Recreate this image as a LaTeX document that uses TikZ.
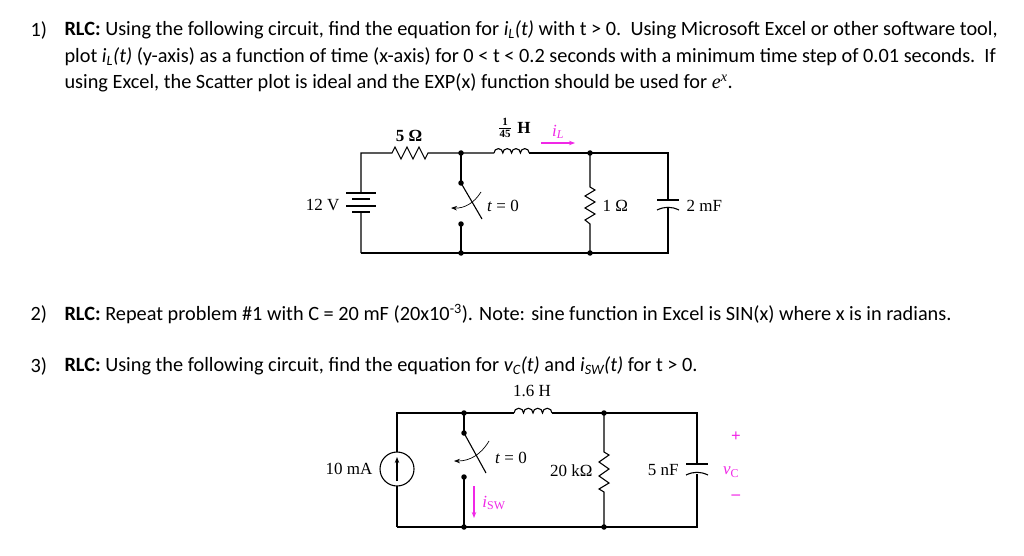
\documentclass[tikz,border=0pt]{standalone}
\usepackage{fontspec}
\setmainfont{Carlito}
\newfontfamily\ser{Liberation Serif}
\usetikzlibrary{arrows.meta}
\begin{document}
\begin{tikzpicture}[x=1pt,y=-1pt,line width=1.1pt,
  txt/.style={anchor=west,inner sep=0pt,font=\fontsize{20.3}{24}\selectfont},
  lab/.style={inner sep=0pt,font=\ser\fontsize{17}{18}\selectfont},
  sml/.style={inner sep=0pt,font=\ser\bfseries\fontsize{11}{11}\selectfont},
  dot/.style={circle,fill,inner sep=0pt,minimum size=5.5pt},
  pink/.style={color={rgb,255:red,240;green,40;blue,230}}]
\useasboundingbox (0,0) rectangle (1024,556);
% text
\node[txt] (n1) at (30,30) {1)};
\node[txt] (l1) at (64,30) {\textbf{RLC:} Using the following circuit, find the equation for \textit{i\textsubscript{L}(t)} with t \textgreater{} 0.\ \ Using Microsoft Excel or other software tool,};
\node[txt] (l2) at (64,57) {plot \textit{i\textsubscript{L}(t)} (y-axis) as a function of time (x-axis) for 0 \textless{} t \textless{} 0.2 seconds with a minimum time step of 0.01 seconds.\ \ If};
\node[txt] (l3) at (64,83) {using Excel, the Scatter plot is ideal and the EXP(x) function should be used for {\ser\itshape e}\textsuperscript{\ser\itshape x}.};
\node[txt] (n2) at (30,314) {2)};
\node[txt] (l4) at (64,314) {\textbf{RLC:} Repeat problem \#1 with C = 20 mF (20x10\textsuperscript{-3}). Note: sine function in Excel is SIN(x) where x is in radians.};
\node[txt] (n3) at (30,366) {3)};
\node[txt] (l5) at (64,366) {\textbf{RLC:} Using the following circuit, find the equation for \textit{v\textsubscript{C}(t)} and \textit{i\textsubscript{SW}(t)} for t \textgreater{} 0.};
% ---------- circuit 1
\coordinate (a1) at (361,153); \coordinate (b1) at (461,153); \coordinate (c1) at (590,153); \coordinate (d1) at (668,153);
\coordinate (a2) at (361,253); \coordinate (b2) at (461,253); \coordinate (c2) at (590,253); \coordinate (d2) at (668,253);
\draw (a2) -- (361,212) (361,193) -- (a1) -- (392,153)
  -- (395,147) -- (401,159) -- (407,147) -- (413,159) -- (419,147) -- (425,159) -- (428,153) -- (b1) -- (494,153);
\draw (494,153) \foreach \i in {0,...,3}{ arc[start angle=180,end angle=360,radius=4.4] } ;
\draw (529,153) -- (c1) -- (d1) -- (668,200);
\draw (668,208) -- (d2) -- (a2);
% battery
\draw (346,193) -- (376,193) (352,199) -- (370,199) (346,206) -- (376,206) (352,212) -- (370,212);
\node[lab,anchor=east] (v12) at (340,205) {12 V};
\node[lab] (r5) at (409,136) {\textbf{5 Ω}};
\node[sml] (f1n) at (505,122) {1};
\draw[line width=0.6pt] (499,128) -- (511,128);
\node[sml] (f1d) at (505,134) {45};
\node[lab] (lh) at (524,128) {\textbf{H}};
\draw[pink,-{Stealth[length=6pt]}] (541,143) -- (575,143);
\node[lab,pink] (il) at (558,132) {\textit{i}\textsubscript{\textit{L}}};
% switch
\draw (b1) -- (461,183) (461,224) -- (b2);
\node[dot] at (461,183) {}; \node[dot] at (461,224) {};
\draw (461,183) -- (482,219);
\draw[-{Stealth[length=6pt]},line width=0.7pt] (481,192) to[bend left=30] (451,208);
\node[lab] (t1) at (503,206) {\textit{t} = 0};
% 1 ohm
\draw (c1) -- (590,187) -- (595,190) -- (585,196) -- (595,202) -- (585,208) -- (595,214) -- (585,220) -- (590,224) -- (c2);
\node[lab,anchor=west] (r1) at (602,206) {1 Ω};
% cap
\draw (657,200) -- (679,200);
\draw (657,210) to[bend left=25] (679,210);
\node[lab,anchor=west] (c2mf) at (686,206) {2 mF};
\foreach \p in {b1,c1,b2,c2} \node[dot] at (\p) {};
% ---------- circuit 2
\coordinate (e1) at (397,413); \coordinate (f1) at (464,413); \coordinate (g1) at (604,413); \coordinate (h1) at (697,413);
\coordinate (e2) at (397,527); \coordinate (f2) at (464,527); \coordinate (g2) at (604,527); \coordinate (h2) at (697,527);
\draw (e2) -- (397,486) (397,452) -- (e1) -- (f1) -- (514,413);
\draw (514,413) \foreach \i in {0,...,3}{ arc[start angle=180,end angle=360,radius=4.75] } ;
\draw (552,413) -- (g1) -- (h1) -- (697,464) (697,474) -- (h2) -- (e2);
\draw (397,469) circle[radius=17];
\draw[-{Stealth[length=6pt]}] (397,481) -- (397,457);
\node[lab,anchor=east] (ma) at (373,469) {10 mA};
\node[lab] (l16) at (532,391) {1.6 H};
\draw (f1) -- (464,433) (464,477) -- (f2);
\node[dot] at (464,433) {}; \node[dot] at (464,477) {};
\draw (464,433) -- (486,473);
\draw[-{Stealth[length=6pt]},line width=0.7pt] (489,441) to[bend left=30] (454,461);
\node[lab] (t2) at (511,458) {\textit{t} = 0};
\draw[pink,-{Stealth[length=6pt]}] (474,486) -- (474,518);
\node[lab,pink] (isw) at (494,503) {\textit{i}\textsubscript{SW}};
\draw (g1) -- (604,452) -- (609,455) -- (599,462) -- (609,469) -- (599,476) -- (609,483) -- (599,489) -- (604,492) -- (g2);
\node[lab,anchor=east] (r20) at (593,471) {20 kΩ};
\draw (686,464) -- (708,464);
\draw (686,475) to[bend left=25] (708,475);
\node[lab,anchor=east] (c5) at (679,470) {5 nF};
\node[lab,pink] (vc) at (731,472) {\textit{v}\textsubscript{C}};
\node[lab,pink] (pl) at (736,437) {\textbf{+}};
\node[lab,pink] (mi) at (736,497) {\textbf{–}};
\foreach \p in {f1,g1,f2,g2} \node[dot] at (\p) {};
\end{tikzpicture}
\end{document}
